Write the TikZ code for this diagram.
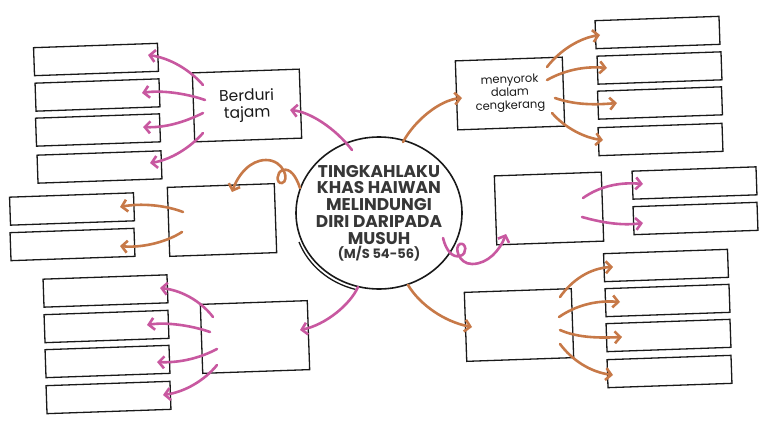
\documentclass[tikz,border=0pt]{standalone}
\usepackage{fontspec}
\setmainfont{Poppins}
\usetikzlibrary{arrows.meta,calc,shapes.geometric}
\definecolor{pk}{RGB}{200,88,160}
\definecolor{og}{RGB}{199,121,72}
\definecolor{ink}{RGB}{25,25,25}
\definecolor{txt}{RGB}{55,55,55}
\tikzset{
 leaf/.style={draw=ink,line width=1.3pt,minimum width=124pt,minimum height=28pt,rotate=2,inner sep=0pt},
 midbox/.style={draw=ink,line width=1.3pt,minimum width=107pt,minimum height=69pt,rotate=2,inner sep=0pt,align=center,text=ink},
 parrow/.style={draw=pk,line width=2.6pt,line cap=round,-{Straight Barb[length=5.5pt,width=12pt]}},
 oarrow/.style={draw=og,line width=2.6pt,line cap=round,-{Straight Barb[length=5.5pt,width=12pt]}},
}
\begin{document}
\begin{tikzpicture}[x=1pt,y=-1pt]
\useasboundingbox (0,0) rectangle (768,431);
% hub
\node[ellipse,draw=ink,line width=1.6pt,minimum width=166pt,minimum height=152pt,inner xsep=-20pt,inner ysep=-25pt,align=center,text=txt,
  font={\fontsize{17}{16.8}\selectfont\bfseries}]
 (hub) at (379,213) {TINGKAHLAKU\\ KHAS HAIWAN\\ MELINDUNGI\\ DIRI DARIPADA\\ MUSUH\\[-3pt] {\fontsize{13}{13}\selectfont (M/S 54-56)}};
\draw[ink,line width=1.3pt] ($(hub.center)+(-2,3)$) ++(105:83 and 76) arc[start angle=105,end angle=160,x radius=83,y radius=76];
% middle boxes
\node[midbox,font={\fontsize{15.5}{17}\selectfont}] (berduri) at (247,105.5) {Berduri\\ tajam};
\node[midbox,font={\fontsize{11.5}{13}\selectfont}] (menyorok) at (510,93.5) {menyorok\\ dalam\\ cengkerang};
\node[midbox] (lmid) at (222,220) {};
\node[midbox] (rmid) at (549,208.5) {};
\node[midbox] (blmid) at (255,337) {};
\node[midbox] (brmid) at (519,325) {};
% leaves
\node[leaf] (l1) at (96,59.5) {};
\node[leaf] (l2) at (97.5,95) {};
\node[leaf] (l3) at (98,130) {};
\node[leaf] (l4) at (99.5,167) {};
\node[leaf] (r1) at (657.5,32.5) {};
\node[leaf] (r2) at (659.5,68) {};
\node[leaf] (r3) at (660,103) {};
\node[leaf] (r4) at (660.5,139.5) {};
\node[leaf] (lm1) at (72,209) {};
\node[leaf] (lm2) at (72.5,244.5) {};
\node[leaf] (rm1) at (694.5,183) {};
\node[leaf] (rm2) at (695.5,218.5) {};
\node[leaf] (bl1) at (105.5,291) {};
\node[leaf] (bl2) at (106.5,326.5) {};
\node[leaf] (bl3) at (107.5,361.5) {};
\node[leaf] (bl4) at (108.5,397.5) {};
\node[leaf] (br1) at (666,265.5) {};
\node[leaf] (br2) at (667.5,300.5) {};
\node[leaf] (br3) at (668.5,335.5) {};
\node[leaf] (br4) at (669.5,371.5) {};
% hub -> berduri
\draw[parrow] ($(hub.center)+(-27,-63)$) .. controls (335,128) and (310,112) .. ($(berduri.center)+(43,4.5)$);
% berduri -> leaves
\draw[parrow] ($(berduri.center)+(-44,-20.5)$) .. controls (190,70) and (170,58) .. ($(l1.center)+(52,-4.5)$);
\draw[parrow] ($(berduri.center)+(-42,-5.5)$) .. controls (185,93) and (160,90) .. ($(l2.center)+(44.5,-2)$);
\draw[parrow] ($(berduri.center)+(-44,7.5)$) .. controls (185,122) and (165,128) .. ($(l3.center)+(45,-3)$);
\draw[parrow] ($(berduri.center)+(-44,27.5)$) .. controls (190,148) and (170,160) .. ($(l4.center)+(50.5,-4)$);
% hub -> menyorok
\draw[oarrow] ($(hub.center)+(24,-71)$) .. controls (415,120) and (440,100) .. ($(menyorok.center)+(-48,4.5)$);
\draw[oarrow] ($(menyorok.center)+(37,-26.5)$) .. controls (560,50) and (580,38) .. ($(r1.center)+(-57.5,2.5)$);
\draw[oarrow] ($(menyorok.center)+(37,-13.5)$) .. controls (565,70) and (585,66) .. ($(r2.center)+(-52.5,0)$);
\draw[oarrow] ($(menyorok.center)+(45,4.5)$) .. controls (575,105) and (595,105) .. ($(r3.center)+(-43,0)$);
\draw[oarrow] ($(menyorok.center)+(42,19.5)$) .. controls (565,128) and (585,138) .. ($(r4.center)+(-57.5,0.5)$);
% hub -> lmid (curl)
\draw[oarrow] ($(hub.center)+(-79,-25)$) .. controls (296,176) and (290,168) .. (283,170)
  .. controls (276,172) and (276,184) .. (282,183) .. controls (290,181) and (284,160) .. (266,160)
  .. controls (250,160) and (238,175) .. ($(lmid.center)+(10,-28)$);
\draw[oarrow] ($(lmid.center)+(-39,-8)$) .. controls (165,205) and (140,203) .. ($(lm1.center)+(48,-2)$);
\draw[oarrow] ($(lmid.center)+(-40,12)$) .. controls (165,243) and (140,248) .. ($(lm2.center)+(47.5,1.5)$);
% hub -> rmid (curl)
\draw[parrow] ($(hub.center)+(64,25)$) .. controls (446,250) and (452,258) .. (460,256)
  .. controls (468,254) and (466,242) .. (460,244) .. controls (454,246) and (458,264) .. (472,264)
  .. controls (488,264) and (500,250) .. ($(rmid.center)+(-43,25.5)$);
\draw[parrow] ($(rmid.center)+(34,-10.5)$) .. controls (600,186) and (620,182) .. ($(rm1.center)+(-51.5,1)$);
\draw[parrow] ($(rmid.center)+(33,8.5)$) .. controls (600,222) and (620,226) .. ($(rm2.center)+(-52.5,4.5)$);
% hub -> blmid
\draw[parrow] ($(hub.center)+(-21,74)$) .. controls (350,305) and (325,325) .. ($(blmid.center)+(45,-7)$);
\draw[parrow] ($(blmid.center)+(-42,-20)$) .. controls (200,300) and (180,290) .. ($(bl1.center)+(54.5,-3)$);
\draw[parrow] ($(blmid.center)+(-45,-5)$) .. controls (190,325) and (165,322) .. ($(bl2.center)+(40.5,-1.5)$);
\draw[parrow] ($(blmid.center)+(-38,12)$) .. controls (200,358) and (180,363) .. ($(bl3.center)+(49.5,0.5)$);
\draw[parrow] ($(blmid.center)+(-38,28)$) .. controls (205,380) and (185,392) .. ($(bl4.center)+(54.5,-2.5)$);
% hub -> brmid
\draw[oarrow] ($(hub.center)+(29,72)$) .. controls (420,305) and (445,322) .. ($(brmid.center)+(-47,2)$);
\draw[oarrow] ($(brmid.center)+(41,-28)$) .. controls (572,280) and (590,268) .. ($(br1.center)+(-53,1.5)$);
\draw[oarrow] ($(brmid.center)+(40,-8)$) .. controls (575,306) and (595,300) .. ($(br2.center)+(-47.5,1.5)$);
\draw[oarrow] ($(brmid.center)+(41,5)$) .. controls (578,338) and (600,338) .. ($(br3.center)+(-46.5,1.5)$);
\draw[oarrow] ($(brmid.center)+(41,19)$) .. controls (572,360) and (590,372) .. ($(br4.center)+(-56.5,3.5)$);
\end{tikzpicture}
\end{document}
